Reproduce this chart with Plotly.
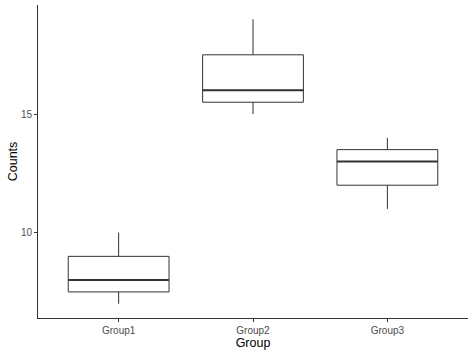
import plotly.graph_objects as go

groups = ["Group1", "Group2", "Group3"]
lower = [7, 15, 11]
q1 = [7.5, 15.5, 12]
median = [8, 16, 13]
q3 = [9, 17.5, 13.5]
upper = [10, 19, 14]
yticks = [10, 15]

pos = [1, 2, 3]
half = 0.375
line_col = "#333333"

fig = go.Figure()
fig.add_trace(go.Box(
    x=pos, q1=q1, median=median, q3=q3, lowerfence=lower, upperfence=upper,
    width=0.75, whiskerwidth=0, fillcolor="white",
    line=dict(color=line_col, width=1), boxpoints=False, showlegend=False,
    hoverinfo="skip"))
for p, m in zip(pos, median):
    fig.add_trace(go.Scatter(x=[p - half, p + half], y=[m, m], mode="lines",
                             line=dict(color=line_col, width=2), showlegend=False,
                             hoverinfo="skip"))

fig.update_layout(
    width=474, height=355,
    margin=dict(l=38, r=6, t=5, b=37, autoexpand=False),
    paper_bgcolor="white", plot_bgcolor="white",
    font=dict(family="Liberation Sans, Arial, sans-serif"),
)
fig.update_xaxes(
    automargin=False,
    range=[0.4, 3.6], tickvals=pos, ticktext=groups,
    showgrid=False, zeroline=False, showline=True, linecolor="#333333", linewidth=1,
    ticks="outside", ticklen=3, tickcolor="#333333",
    tickfont=dict(size=10, color="#4D4D4D"),
    title=dict(text="Group", font=dict(size=12.5, color="black"), standoff=2),
)
fig.update_yaxes(
    automargin=False,
    range=[6.4, 19.6], tickvals=yticks, ticktext=[str(v) for v in yticks],
    showgrid=False, zeroline=False, showline=True, linecolor="#333333", linewidth=1,
    ticks="outside", ticklen=3, tickcolor="#333333",
    tickfont=dict(size=10, color="#4D4D4D"),
    title=dict(text="Counts", font=dict(size=12.5, color="black"), standoff=0),
)
fig.write_html("out.html", config={"displayModeBar": False},
               post_script="document.body.style.margin='0';")
